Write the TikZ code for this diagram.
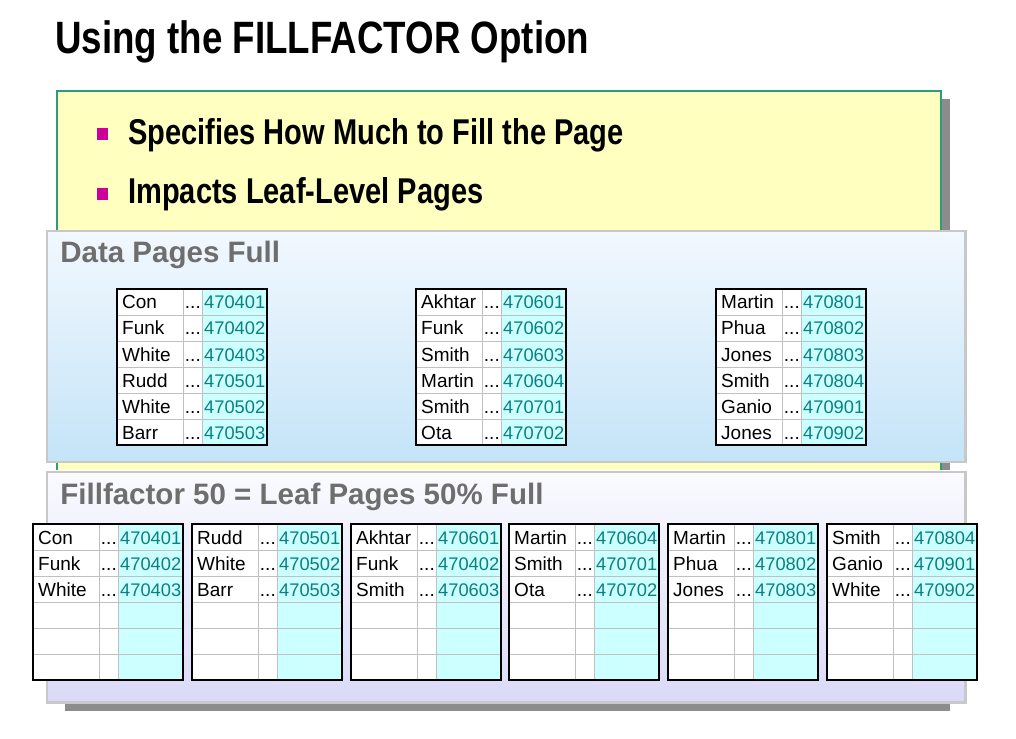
\documentclass[tikz,border=0pt]{standalone}
\usepackage{fontspec}
\setmainfont{Liberation Sans}
\usepackage{graphicx}
\definecolor{yellowc}{HTML}{FFFFC0}
\definecolor{yellowborder}{HTML}{2E9A7E}
\definecolor{shadowc}{HTML}{8C8C8C}
\definecolor{panelborder}{HTML}{C8C8C8}
\definecolor{ponetop}{HTML}{F2F8FE}
\definecolor{ponebot}{HTML}{C4E4F8}
\definecolor{ptwotop}{HTML}{FAFAFF}
\definecolor{ptwobot}{HTML}{DADAF8}
\definecolor{bulletc}{HTML}{CC0099}
\definecolor{ptitlec}{HTML}{6E6E6E}
\definecolor{cyanc}{HTML}{CCFFFF}
\definecolor{gridc}{HTML}{C0C0C0}
\definecolor{numcol}{HTML}{0A8080}
\tikzset{
  gridline/.style={draw=gridc, line width=0.55pt},
  namec/.style={anchor=base west, inner sep=0.5pt, font=\fontsize{10.8pt}{12pt}\selectfont},
  dotc/.style={anchor=base east, inner sep=0.5pt, font=\fontsize{10.8pt}{12pt}\selectfont},
  numc/.style={anchor=base west, inner sep=0.5pt, text=numcol, font=\fontsize{10.4pt}{12pt}\selectfont},
  ptitle/.style={anchor=base west, inner sep=0pt, text=ptitlec, font=\fontsize{16.8pt}{20pt}\selectfont\bfseries},
  btext/.style={anchor=base west, inner sep=0pt},
  bsq/.style={fill=bulletc},
}
\newcommand{\pgtable}[4]{%
  \begin{scope}[shift={(#2,#3)}]
    \fill[white] (0,0) rectangle (85,156);
    \fill[cyanc] (85,0) rectangle (150,156);
    \foreach \i in {1,...,5} \draw[gridline] (0,\i*26) -- (150,\i*26);
    \draw[gridline] (66,0) -- (66,156) (85,0) -- (85,156);
    \foreach [count=\k] \n/\v in {#4} {
      \node[namec] (#1n\k) at (4,\k*26-6) {\n};
      \node[dotc] (#1d\k) at (85,\k*26-6) {...};
      \node[numc] (#1v\k) at (86,\k*26-6) {\v};
    }
    \draw[black, line width=0.85pt] (0,0) rectangle (150,156);
  \end{scope}}
\begin{document}
\begin{tikzpicture}[x=0.02cm,y=-0.02cm]
\useasboundingbox[fill=white] (0,0) rectangle (1016,739);
% title
\node[anchor=base west, inner sep=0] (title) at (55,54)
  {\scalebox{0.81}[1]{\fontsize{25.8pt}{30pt}\selectfont\bfseries Using the FILLFACTOR Option}};
% yellow box
\fill[shadowc] (65,99) rectangle (950,470);
\fill[yellowc] (57,91) rectangle (941,470);
\draw[yellowborder, line width=0.6pt] (57,470) -- (57,91) -- (941,91) -- (941,470);
\fill[bsq] (97,128) rectangle (108,140);
\node[btext] (b1) at (128,145)
  {\scalebox{0.81}[1]{\fontsize{20.4pt}{24pt}\selectfont\bfseries Specifies How Much to Fill the Page}};
\fill[bsq] (97,188) rectangle (108,200);
\node[btext] (b2) at (128,204)
  {\scalebox{0.81}[1]{\fontsize{20.4pt}{24pt}\selectfont\bfseries Impacts Leaf-Level Pages}};
% panel 1
\shade[top color=ponetop, bottom color=ponebot] (47,231) rectangle (965,462);
\draw[panelborder, line width=1.7pt] (47,231) rectangle (965,462);
\node[ptitle] (p1title) at (60,263) {Data Pages Full};
\pgtable{Da}{117}{289}{Con/470401,Funk/470402,White/470403,Rudd/470501,White/470502,Barr/470503}
\pgtable{Db}{416}{289}{Akhtar/470601,Funk/470602,Smith/470603,Martin/470604,Smith/470701,Ota/470702}
\pgtable{Dc}{716}{289}{Martin/470801,Phua/470802,Jones/470803,Smith/470804,Ganio/470901,Jones/470902}
% panel 2
\fill[shadowc] (65,480) rectangle (950,711);
\shade[top color=ptwotop, bottom color=ptwobot] (47,472) rectangle (965,702);
\draw[panelborder, line width=1.7pt] (47,472) rectangle (965,702);
\node[ptitle] (p2title) at (60,504) {Fillfactor 50 = Leaf Pages 50\% Full};
\pgtable{La}{33}{524}{Con/470401,Funk/470402,White/470403}
\pgtable{Lb}{192}{524}{Rudd/470501,White/470502,Barr/470503}
\pgtable{Lc}{351}{524}{Akhtar/470601,Funk/470402,Smith/470603}
\pgtable{Ld}{509}{524}{Martin/470604,Smith/470701,Ota/470702}
\pgtable{Le}{668}{524}{Martin/470801,Phua/470802,Jones/470803}
\pgtable{Lf}{827}{524}{Smith/470804,Ganio/470901,White/470902}
\end{tikzpicture}
\end{document}
